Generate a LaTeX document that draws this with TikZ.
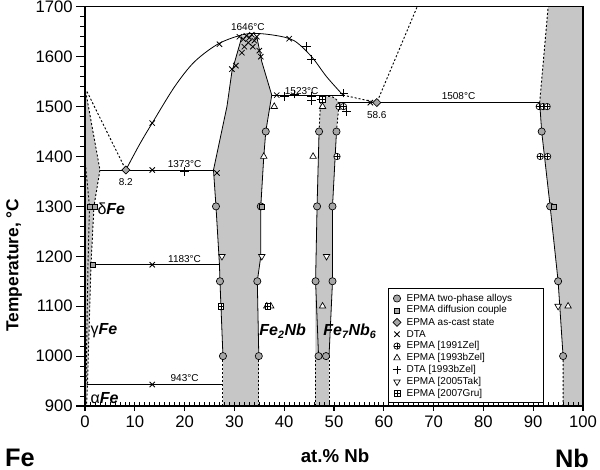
\documentclass[tikz,border=0pt]{standalone}
\usepackage{fontspec}
\setmainfont{Liberation Sans}
\usetikzlibrary{shapes.geometric,shapes.misc}
\newcounter{mk}
\newcommand{\mk}[3]{\stepcounter{mk}\node[#1] (m\arabic{mk}) at (#2,#3) {};}
\tikzset{
 mbase/.style={inner sep=0pt,outer sep=0pt,line width=0.5pt},
 circ/.style={mbase,circle,draw,fill=gray!70,minimum size=5.4pt},
 sqr/.style={mbase,rectangle,draw,fill=gray!70,minimum size=3.8pt},
 dia/.style={mbase,diamond,draw,fill=gray!70,minimum size=6pt},
 xx/.style={mbase,cross out,draw,minimum size=4pt,line width=0.6pt},
 pl/.style={mbase,cross out,draw,rotate=45,minimum size=4.6pt,line width=0.7pt},
 cplus/.style={mbase,circle,draw,fill=white,minimum size=4.8pt,path picture={\draw (path picture bounding box.north)--(path picture bounding box.south) (path picture bounding box.west)--(path picture bounding box.east);}},
 splus/.style={mbase,rectangle,draw,fill=white,minimum size=4.3pt,path picture={\draw (path picture bounding box.north)--(path picture bounding box.south) (path picture bounding box.west)--(path picture bounding box.east);}},
 tup/.style={mbase,regular polygon,regular polygon sides=3,draw,fill=white,minimum size=5.6pt},
 tdn/.style={tup,shape border rotate=180},
 ph/.style={fill=gray!45,draw=none},
 bnd/.style={line width=0.6pt},
 dotl/.style={line width=0.7pt,dash pattern=on 1.5pt off 1.5pt},
 tl/.style={font=\fontsize{7.5}{8}\selectfont,inner sep=1pt},
 phl/.style={font=\fontsize{12}{13}\selectfont\bfseries\itshape,inner sep=1pt},
}
\begin{document}
\begin{tikzpicture}[x=0.75pt,y=0.75pt]
\useasboundingbox (0,0) rectangle (600,470);
\begin{scope}[shift={(63.75pt,-288.825pt)},x=3.735pt,y=0.37425pt]
% phase regions
\fill[ph] (0,1538) -- (3,1373) -- (1.8,1300) -- (1.2,1183) -- (0.5,943) -- (0.3,900) -- (0,900) -- cycle;
\fill[ph] (32.7,1646) -- (31.5,1640) -- (29.5,1570) -- (28.5,1500) -- (25.8,1373) -- (26.3,1300) -- (27,1183) -- (27.1,1150) -- (27.3,1100) -- (27.7,1000) -- (27.7,900) -- (34.9,900) -- (34.9,1000) -- (34.6,1150) -- (35.3,1200) -- (35.3,1300) -- (35.9,1400) -- (36.3,1450) -- (37.5,1523) -- (35.5,1590) -- (34.5,1640) -- cycle;
\fill[ph] (46.2,900) -- (46.3,1150) -- (46.6,1300) -- (47,1450) -- (47.3,1510) .. controls (47.6,1525) and (50.5,1525) .. (51,1505) -- (50.5,1450) -- (49.7,1300) -- (49.7,1150) -- (49,1000) -- (49,900) -- cycle;
\fill[ph] (93,1700) -- (91.3,1508) -- (91.7,1450) -- (93.4,1300) -- (95,1150) -- (96,1000) -- (96,900) -- (100,900) -- (100,1700) -- cycle;
% Fe side boundaries
\draw[dotl] (0,1538) -- (3,1373) -- (1.8,1300) -- (1.2,1183) -- (0.5,943) -- (0.3,900);
\draw[dotl] (0.4,1530) -- (8.2,1373);
\draw[dotl] (0,1394) -- (0.9,1300) -- (0.6,1183) -- (0.2,943);
% Fe2Nb
\draw[bnd] (34.5,1640) -- (35.5,1590) -- (37.5,1523) -- (36.3,1450) -- (35.9,1400) -- (35.3,1300) -- (35.3,1200) -- (34.6,1150) -- (34.9,1000);
\draw[bnd] (31.5,1640) -- (29.5,1570) -- (28.5,1500) -- (25.8,1373) -- (26.3,1300) -- (27,1183) -- (27.1,1150) -- (27.3,1100) -- (27.7,1000);
\draw[dotl] (27.7,1000) -- (27.7,900) (34.9,1000) -- (34.9,900);
% Fe7Nb6
\draw[bnd] (46.9,1000) -- (46.3,1150) -- (46.6,1300) -- (47,1450);
\draw[bnd] (49,1000) -- (49.7,1150) -- (49.7,1300) -- (50.5,1450);
\draw[dotl] (47,1450) -- (47.3,1510) .. controls (47.6,1525) and (50.5,1525) .. (51,1505) -- (50.5,1450);
\draw[dotl] (46.2,1000) -- (46.2,900) (49,1000) -- (49,900);
% Nb
\draw[bnd] (91.3,1508) -- (91.7,1450) -- (93.4,1300) -- (95,1150) -- (96,1000);
\draw[dotl] (96,1000) -- (96,900) (91.3,1508) -- (93,1700);
% liquidus
\draw[bnd] plot[smooth] coordinates {(8.2,1373) (11,1425) (13.5,1467) (18,1540) (22,1590) (27,1627) (32.7,1646) (38,1643) (42,1632) (45.5,1600) (48.5,1560) (51.8,1523)};
\draw[dotl] (51.8,1523) -- (58.6,1508) -- (66.7,1700);
% invariant lines
\draw[bnd] (3,1373) -- (25.8,1373);
\draw[bnd] (1.2,1183) -- (27,1183);
\draw[bnd] (0.4,943) -- (27.7,943);
\draw[bnd] (37.5,1523) -- (51.8,1523);
\draw[bnd] (51,1508) -- (91.3,1508);
% labels
\node[tl,above] (l1646) at (32.7,1650) {1646°C};
\node[tl,above] (l1373) at (20,1375) {1373°C};
\node[tl,below] (l82) at (8.2,1360) {8.2};
\node[tl,above] (l1183) at (20,1185) {1183°C};
\node[tl,above] (l943) at (20,945) {943°C};
\node[tl] (l1523) at (43.5,1532) {1523°C};
\node[tl,below] (l586) at (58.6,1494) {58.6};
\node[tl,above] (l1508) at (75,1510) {1508°C};
\node[phl,right] (dFe) at (2.2,1295) {\normalfont\fontsize{12}{13}\selectfont δ\bfseries\itshape Fe};
\node[phl,right] (gFe) at (0.8,1050) {\normalfont\fontsize{12}{13}\selectfont γ\bfseries\itshape Fe};
\node[phl,right] (aFe) at (0.8,915) {\normalfont\fontsize{12}{13}\selectfont α\bfseries\itshape Fe};
\node[phl] (fe2nb) at (39.7,1050) {Fe\textsubscript{2}Nb};
\node[phl] (fe7nb6) at (53.2,1050) {Fe\textsubscript{7}Nb\textsubscript{6}};
\node[phl] (nbl) at (88.5,1050) {Nb};
% markers
\mk{xx}{13.5}{1467}\mk{xx}{13.5}{1373}\mk{xx}{26.5}{1367}\mk{xx}{13.5}{1183}\mk{xx}{13.5}{943}
\mk{xx}{27}{1625}\mk{xx}{29.5}{1575}\mk{xx}{30.3}{1582}\mk{xx}{31}{1640}\mk{xx}{31.8}{1635}
\mk{xx}{32.4}{1642}\mk{xx}{33}{1638}\mk{xx}{33.5}{1644}\mk{xx}{34}{1632}\mk{xx}{32.8}{1628}
\mk{xx}{33.7}{1620}\mk{xx}{34.5}{1640}\mk{xx}{32}{1620}\mk{xx}{35}{1612}\mk{xx}{35.3}{1600}
\mk{xx}{31.5}{1608}\mk{xx}{41}{1636}\mk{xx}{38.5}{1523}\mk{xx}{57.3}{1508}
\mk{pl}{20}{1370}\mk{pl}{44.5}{1620}\mk{pl}{45.5}{1594}\mk{pl}{40}{1520}\mk{pl}{42}{1525}
\mk{pl}{45.5}{1520}\mk{pl}{45.5}{1512}\mk{pl}{47.4}{1515}\mk{pl}{52}{1527}\mk{pl}{52.5}{1490}
\mk{dia}{8.2}{1373}\mk{dia}{58.6}{1508}
\mk{circ}{26.3}{1300}\mk{circ}{27.1}{1150}\mk{circ}{27.7}{1000}
\mk{circ}{36.3}{1450}\mk{circ}{35.3}{1300}\mk{circ}{34.6}{1150}\mk{circ}{34.9}{1000}
\mk{circ}{47}{1450}\mk{circ}{50.5}{1450}\mk{circ}{46.6}{1300}\mk{circ}{49.7}{1300}
\mk{circ}{46.3}{1150}\mk{circ}{49.7}{1150}\mk{circ}{46.9}{1000}\mk{circ}{48.4}{1000}
\mk{circ}{91.7}{1450}\mk{circ}{93.4}{1300}\mk{circ}{95}{1150}\mk{circ}{96}{1000}
\mk{sqr}{1}{1300}\mk{sqr}{1.9}{1300}\mk{sqr}{1.5}{1183}\mk{sqr}{35.6}{1300}\mk{sqr}{94.1}{1300}
\mk{cplus}{51}{1500}\mk{cplus}{51.9}{1500}\mk{cplus}{50.6}{1400}
\mk{cplus}{91.2}{1500}\mk{cplus}{92}{1500}\mk{cplus}{92.8}{1500}
\mk{cplus}{91.4}{1400}\mk{cplus}{92.9}{1400}
\mk{tup}{38}{1500}\mk{tup}{35.9}{1400}\mk{tup}{47.7}{1500}\mk{tup}{45.8}{1400}
\mk{tup}{36.5}{1100}\mk{tup}{37.3}{1100}\mk{tup}{47.7}{1100}\mk{tup}{97}{1100}
\mk{tdn}{27.5}{1200}\mk{tdn}{35.5}{1200}\mk{tdn}{48.5}{1200}\mk{tdn}{95}{1100}
\mk{splus}{27.3}{1100}\mk{splus}{36.7}{1100}\mk{splus}{47.7}{1515}
% frame and ticks
\draw[line width=0.8pt] (0,900) rectangle (100,1700);
\foreach \t in {900,920,...,1700} \draw[line width=0.6pt] (0,\t) -- ++(-4pt,0);
\foreach \t in {900,1000,...,1700} {\draw[line width=0.8pt] (0,\t) -- ++(-7pt,0); \node[anchor=east,font=\fontsize{12.5}{13}\selectfont,inner sep=0pt] (yt\t) at ([xshift=-9pt]0,\t) {\t};}
\foreach \p in {0,1,...,100} \draw[line width=0.5pt] (\p,900) -- ++(0,3pt);
\foreach \p in {0,10,...,100} {\draw[line width=0.8pt] (\p,900) -- ++(0,-4pt); \node[anchor=north,font=\fontsize{12.5}{13}\selectfont,inner sep=0pt] (xt\p) at ([yshift=-7pt]\p,900) {\p};}
\end{scope}
% axis titles
\node[rotate=90,font=\fontsize{13}{14}\selectfont\bfseries] (ylab) at (14,205) {Temperature, °C};
\node[font=\fontsize{14}{15}\selectfont\bfseries] (xlab) at (335,14) {at.\% Nb};
\node[font=\fontsize{19}{20}\selectfont\bfseries] (feL) at (20,12) {Fe};
\node[font=\fontsize{19}{20}\selectfont\bfseries] (nbL) at (572,12) {Nb};
% legend
\node[draw,line width=0.8pt,fill=white,minimum width=155pt*0.75,minimum height=114pt*0.75,anchor=north west] (leg) at (388,182) {};
\foreach[count=\i] \s/\t in {circ/EPMA two-phase alloys,sqr/EPMA diffusion couple,dia/EPMA as-cast state,xx/DTA,cplus/EPMA [1991Zel],tup/EPMA [1993bZel],pl/DTA [1993bZel],tdn/EPMA [2005Tak],splus/EPMA [2007Gru]} {
 \node[\s] (lm\i) at (397,182-10.5-11.9*\i+11.9) {};
 \node[tl,anchor=west] (lt\i) at (405,182-10.5-11.9*\i+11.9) {\t};
}
\end{tikzpicture}
\end{document}
